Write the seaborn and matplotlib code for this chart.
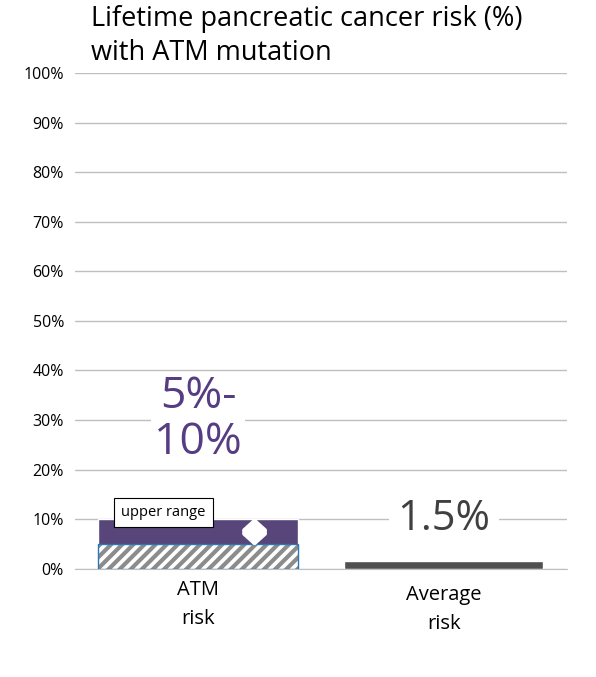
import matplotlib
matplotlib.use("Agg")
import matplotlib.pyplot as plt
import seaborn as sns
import pandas as pd

# data
categories = ["ATM\nrisk", "Average\nrisk"]
upper_values = [10, 1.5]   # top of each bar (%)
lower_values = [5, 0]      # hatched lower part (%)
bar_labels = ["5%-\n10%", "1.5%"]
title = "Lifetime pancreatic cancer risk (%)\nwith ATM mutation"

sns.set_style("white")
plt.rcParams["font.family"] = ["Open Sans", "DejaVu Sans"]
plt.rcParams["hatch.linewidth"] = 3.0
plt.rcParams["text.color"] = "black"

df = pd.DataFrame({"cat": categories, "upper": upper_values, "lower": lower_values})

fig = plt.figure(figsize=(5.96, 6.77), dpi=100)
ax = fig.add_axes([0.126, 0.16, 0.825, 0.732])

sns.barplot(data=df, x="cat", y="upper", hue="cat", palette=["#563C82", "#505050"],
            width=0.81, legend=False, ax=ax, zorder=2)
sns.barplot(data=df, x="cat", y="lower", color="white", width=0.81, ax=ax, zorder=3,
            hatch="///", edgecolor="#8C8C8C", linewidth=0)
# outline of hatched part
for p in ax.patches[2:]:
    if p.get_height() > 0:
        ax.add_patch(plt.Rectangle((p.get_x(), 0), p.get_width(), p.get_height(),
                                   fill=False, edgecolor="#2E75B6", linewidth=1, zorder=4))

ax.set_ylim(0, 100)
ax.set_xlim(-0.5, 1.5)
ax.set_yticks(range(0, 101, 10))
ax.set_yticklabels([f"{v}%" for v in range(0, 101, 10)], fontsize=11.5, color="black")
ax.yaxis.grid(True, color="#BFBFBF", linewidth=1, zorder=0)
ax.set_axisbelow(True)
for s in ax.spines.values():
    s.set_visible(False)
ax.spines["bottom"].set_visible(True)
ax.spines["bottom"].set_color("#BFBFBF")
ax.tick_params(axis="both", length=0, pad=8)
ax.set_xticks([0, 1])
ax.set_xticklabels(categories, fontsize=14.5, linespacing=1.6, color="black")
ax.get_xticklabels()[1].set_y(-0.01)
ax.set_xlabel("")
ax.set_ylabel("")

ax.text(0, 30, bar_labels[0], ha="center", va="center", fontsize=32, color="#563C82",
        linespacing=1.05, bbox=dict(facecolor="white", edgecolor="none", pad=2), zorder=5)
ax.text(1, 10, bar_labels[1], ha="center", va="center", fontsize=30, color="#404040",
        bbox=dict(facecolor="white", edgecolor="none", pad=6), zorder=5)

# upper range annotation
ax.text(-0.14, 11.4, "upper range", ha="center", va="center", fontsize=10.5,
        bbox=dict(facecolor="white", edgecolor="black", linewidth=0.8, pad=5), zorder=6)
ax.annotate("", xy=(0.23, 4.6), xytext=(0.23, 10.2),
            arrowprops=dict(arrowstyle="<|-|>,head_width=0.5,head_length=0.45",
                            color="white", lw=4, mutation_scale=14, shrinkA=0, shrinkB=0),
            zorder=6)

fig.text(0.153, 0.992, title, ha="left", va="top", fontsize=19.5, linespacing=1.25)

fig.savefig("out.png", dpi=100)
